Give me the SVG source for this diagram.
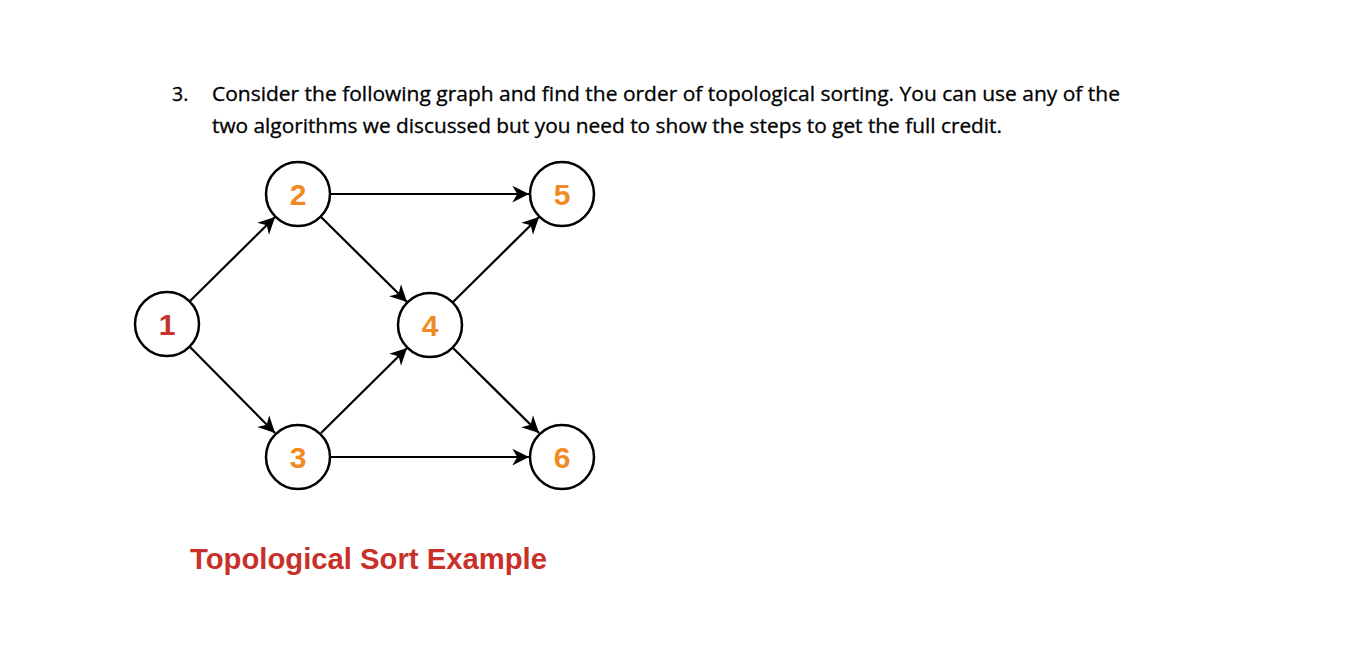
<svg xmlns="http://www.w3.org/2000/svg" width="1363" height="652" viewBox="0 0 1363 652">
<style>
.t{font-family:"Open Sans","Liberation Sans",sans-serif;font-size:19.5px;fill:#000;stroke:#000;stroke-width:0.3}
circle{fill:#fff;stroke:#000;stroke-width:2.5}
.n{font-family:"Liberation Sans",Arial,sans-serif;font-weight:bold;font-size:30px;fill:#f08a24;text-anchor:middle}
.e line{stroke:#000;stroke-width:2.2;marker-end:url(#a)}
</style>
<defs><marker id="a" viewBox="0 0 10 10" refX="10" refY="5" markerWidth="7" markerHeight="7" orient="auto" markerUnits="userSpaceOnUse" style="overflow:visible"><path d="M0,0L10,5L0,10L3,5z" fill="#000" transform="scale(2.4) translate(-5.8,-2.9)"/></marker></defs>
<rect width="1363" height="652" fill="#fff"/>
<text class="t" x="172" y="101">3.</text>
<text class="t" x="212" y="101" textLength="908" lengthAdjust="spacingAndGlyphs">Consider the following graph and find the order of topological sorting. You can use any of the</text>
<text class="t" x="212" y="133" textLength="790" lengthAdjust="spacingAndGlyphs">two algorithms we discussed but you need to show the steps to get the full credit.</text>
<g class="e">
<line x1="190" y1="301" x2="275" y2="217"/>
<line x1="190" y1="347" x2="275" y2="433"/>
<line x1="331" y1="194" x2="529" y2="194"/>
<line x1="321" y1="217" x2="407" y2="302"/>
<line x1="321" y1="433" x2="407" y2="348"/>
<line x1="331" y1="457" x2="529" y2="457"/>
<line x1="453" y1="302" x2="539" y2="217"/>
<line x1="453" y1="348" x2="539" y2="433"/>
</g>
<g id="n1"><circle cx="167" cy="324" r="32"/><text class="n" x="167" y="335" style="fill:#c8302a">1</text></g>
<g id="n2"><circle cx="298" cy="194" r="32"/><text class="n" x="298" y="205">2</text></g>
<g id="n3"><circle cx="298" cy="457" r="32"/><text class="n" x="298" y="468">3</text></g>
<g id="n4"><circle cx="430" cy="325" r="32"/><text class="n" x="430" y="336">4</text></g>
<g id="n5"><circle cx="562" cy="194" r="32"/><text class="n" x="562" y="205">5</text></g>
<g id="n6"><circle cx="562" cy="457" r="32"/><text class="n" x="562" y="468">6</text></g>
<text x="190" y="569" textLength="357" lengthAdjust="spacingAndGlyphs" style="font-family:'Liberation Sans',Arial,sans-serif;font-weight:bold;font-size:29px;fill:#c8302a">Topological Sort Example</text>
</svg>
